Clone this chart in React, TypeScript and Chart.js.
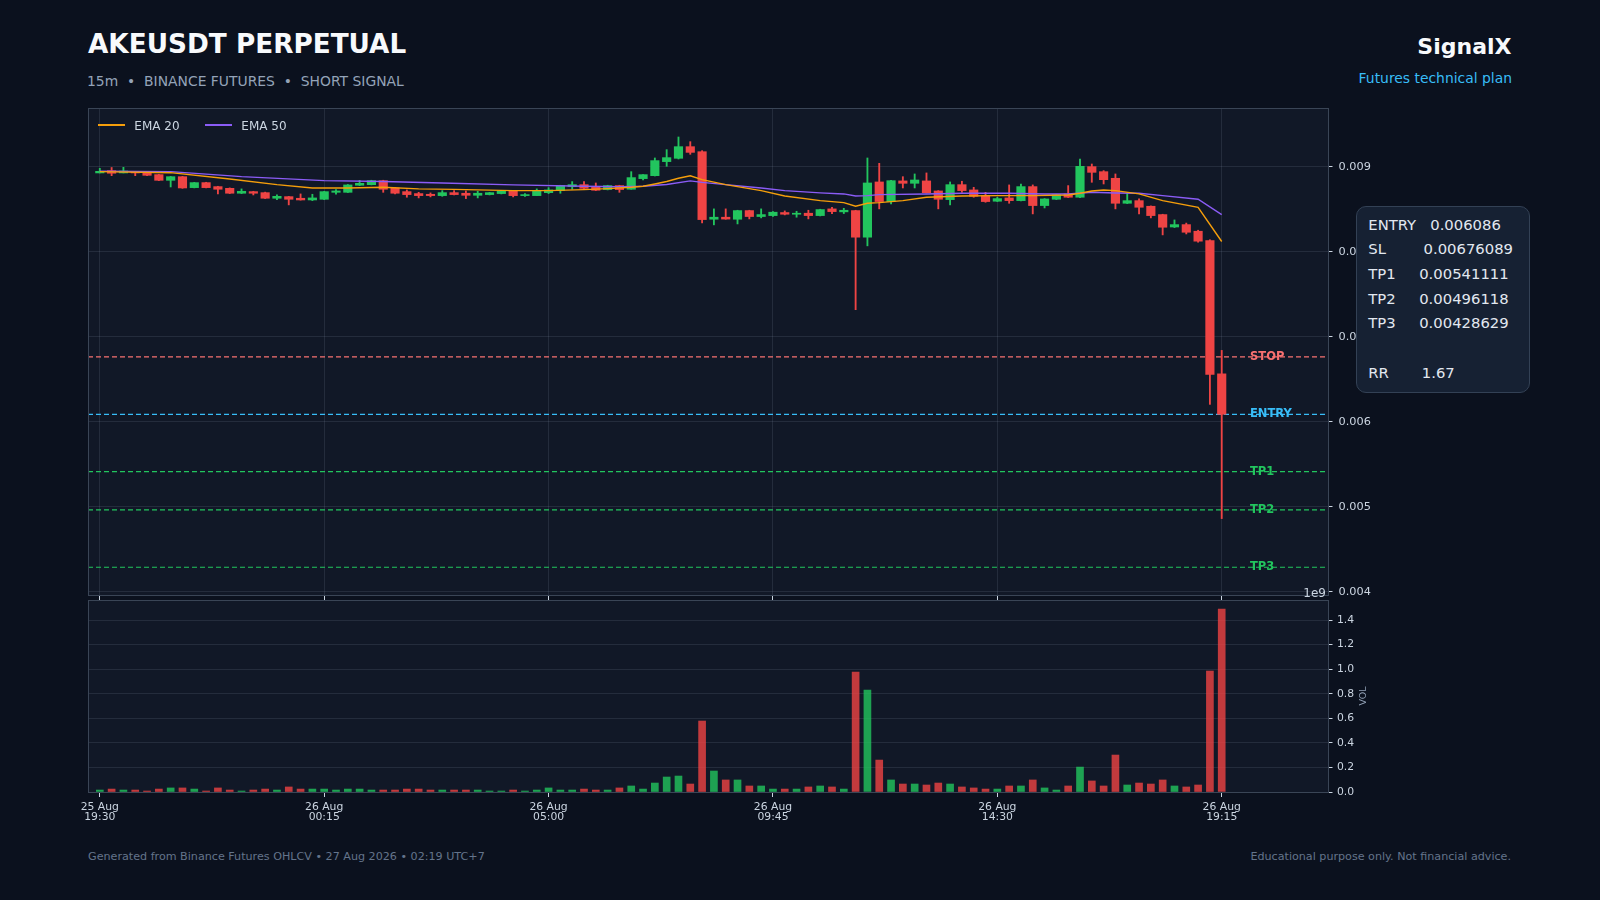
import { useEffect, useRef } from "react";
import { Chart, registerables } from "chart.js";
import type { Plugin } from "chart.js";

Chart.register(...registerables);

const FONT = "'DejaVu Sans', sans-serif";
Chart.defaults.font.family = FONT;

// 15m candles, 25 Aug 19:30 -> 26 Aug 19:15
const opens = [
  0.008926, 0.008953, 0.008926, 0.008945, 0.008933, 0.008906, 0.008839, 0.008882, 0.008753, 0.008812,
  0.008765, 0.008745, 0.008687, 0.008706, 0.008694, 0.008628, 0.008647, 0.008628, 0.008608, 0.008616,
  0.008698, 0.008698, 0.008781, 0.008788, 0.008835, 0.008749, 0.008706, 0.008683, 0.008675, 0.008659,
  0.008694, 0.008687, 0.008663, 0.008671, 0.008683, 0.008710, 0.008659, 0.008659, 0.008694, 0.008718,
  0.008765, 0.008788, 0.008757, 0.008730, 0.008777, 0.008734, 0.008859, 0.008894, 0.009059, 0.009098,
  0.009235, 0.009176, 0.008381, 0.008405, 0.008381, 0.008483, 0.008413, 0.008424, 0.008460, 0.008440,
  0.008452, 0.008424, 0.008503, 0.008468, 0.008483, 0.008170, 0.008820, 0.008589, 0.008832, 0.008804,
  0.008832, 0.008714, 0.008612, 0.008788, 0.008726, 0.008659, 0.008593, 0.008632, 0.008600, 0.008765,
  0.008542, 0.008616, 0.008679, 0.008640, 0.009000, 0.008941, 0.008863, 0.008569, 0.008600, 0.008534,
  0.008436, 0.008290, 0.008318, 0.008240, 0.008130, 0.006562,
];
const highs = [
  0.008980, 0.008990, 0.008992, 0.008945, 0.008935, 0.008910, 0.008885, 0.008886, 0.008815, 0.008816,
  0.008769, 0.008750, 0.008738, 0.008710, 0.008700, 0.008667, 0.008650, 0.008679, 0.008675, 0.008710,
  0.008730, 0.008790, 0.008839, 0.008840, 0.008840, 0.008753, 0.008726, 0.008698, 0.008691, 0.008718,
  0.008718, 0.008714, 0.008710, 0.008698, 0.008714, 0.008718, 0.008683, 0.008738, 0.008753, 0.008781,
  0.008824, 0.008824, 0.008808, 0.008781, 0.008781, 0.008941, 0.008906, 0.009102, 0.009200, 0.009349,
  0.009294, 0.009188, 0.008503, 0.008503, 0.008487, 0.008487, 0.008503, 0.008472, 0.008479, 0.008475,
  0.008487, 0.008499, 0.008522, 0.008510, 0.008487, 0.009102, 0.009039, 0.008840, 0.008882, 0.008914,
  0.008926, 0.008718, 0.008820, 0.008828, 0.008757, 0.008698, 0.008640, 0.008785, 0.008796, 0.008785,
  0.008624, 0.008675, 0.008777, 0.009090, 0.009031, 0.008953, 0.008914, 0.008691, 0.008620, 0.008538,
  0.008440, 0.008373, 0.008336, 0.008252, 0.008140, 0.006838,
];
const lows = [
  0.008926, 0.008894, 0.008926, 0.008894, 0.008895, 0.008835, 0.008761, 0.008745, 0.008750, 0.008750,
  0.008679, 0.008683, 0.008683, 0.008667, 0.008624, 0.008612, 0.008550, 0.008606, 0.008600, 0.008612,
  0.008675, 0.008695, 0.008777, 0.008785, 0.008698, 0.008680, 0.008640, 0.008632, 0.008644, 0.008651,
  0.008667, 0.008624, 0.008632, 0.008667, 0.008679, 0.008644, 0.008651, 0.008659, 0.008683, 0.008687,
  0.008734, 0.008741, 0.008718, 0.008726, 0.008698, 0.008734, 0.008845, 0.008890, 0.009004, 0.009090,
  0.009145, 0.008338, 0.008315, 0.008381, 0.008326, 0.008385, 0.008397, 0.008413, 0.008432, 0.008405,
  0.008385, 0.008420, 0.008448, 0.008448, 0.007317, 0.008068, 0.008503, 0.008561, 0.008749, 0.008749,
  0.008690, 0.008503, 0.008550, 0.008698, 0.008640, 0.008581, 0.008589, 0.008569, 0.008597, 0.008444,
  0.008514, 0.008612, 0.008636, 0.008636, 0.008816, 0.008796, 0.008503, 0.008565, 0.008444, 0.008397,
  0.008197, 0.008283, 0.008208, 0.008111, 0.006203, 0.004859,
];
const closes = [
  0.008945, 0.008922, 0.008949, 0.008926, 0.008898, 0.008839, 0.008882, 0.008749, 0.008812, 0.008753,
  0.008734, 0.008687, 0.008710, 0.008687, 0.008628, 0.008651, 0.008616, 0.008608, 0.008632, 0.008706,
  0.008714, 0.008785, 0.008804, 0.008835, 0.008734, 0.008687, 0.008671, 0.008659, 0.008659, 0.008694,
  0.008671, 0.008663, 0.008687, 0.008694, 0.008710, 0.008659, 0.008671, 0.008710, 0.008726, 0.008777,
  0.008788, 0.008745, 0.008722, 0.008777, 0.008730, 0.008871, 0.008906, 0.009071, 0.009106, 0.009235,
  0.009168, 0.008377, 0.008405, 0.008383, 0.008483, 0.008413, 0.008436, 0.008464, 0.008440, 0.008452,
  0.008424, 0.008495, 0.008471, 0.008487, 0.008170, 0.008808, 0.008589, 0.008835, 0.008804, 0.008843,
  0.008694, 0.008616, 0.008788, 0.008718, 0.008651, 0.008589, 0.008624, 0.008600, 0.008765, 0.008542,
  0.008620, 0.008671, 0.008640, 0.009004, 0.008933, 0.008847, 0.008569, 0.008600, 0.008522, 0.008424,
  0.008287, 0.008318, 0.008228, 0.008123, 0.006555, 0.006086,
];
// volume in millions of contracts
const volumesM = [
  16, 24, 16, 16, 8, 24, 33, 33, 24, 8,
  33, 16, 8, 16, 24, 16, 41, 24, 24, 24,
  16, 24, 24, 16, 16, 16, 24, 24, 16, 16,
  16, 16, 16, 8, 8, 16, 8, 16, 33, 16,
  16, 24, 16, 16, 33, 49, 24, 73, 122, 130,
  65, 578, 171, 98, 98, 49, 49, 24, 24, 24,
  41, 49, 41, 24, 977, 830, 260, 98, 65, 65,
  57, 73, 65, 41, 33, 24, 24, 49, 49, 98,
  33, 16, 49, 203, 90, 49, 301, 57, 73, 65,
  98, 49, 41, 57, 985, 1489,
];

const ema20Index = [
  0, 6, 11, 15, 18, 21, 24, 27, 30, 35, 38, 41, 43, 45, 46, 47, 48, 49, 50, 51, 53,
  56, 58, 61, 63, 64, 65, 66, 68, 70, 73, 76, 79, 82, 83, 84, 85, 86, 88, 90, 93, 95,
];
const ema20 = [
  0.008941, 0.008929, 0.008855, 0.008788, 0.008749, 0.008749, 0.008757, 0.008738, 0.008733, 0.008718,
  0.008718, 0.008730, 0.008741, 0.008757, 0.008770, 0.008796, 0.008825, 0.008864, 0.008893, 0.008848,
  0.008788, 0.008718, 0.008655, 0.008600, 0.008577, 0.008534, 0.008569, 0.008577, 0.008600, 0.008640,
  0.008655, 0.008659, 0.008659, 0.008667, 0.008687, 0.008714, 0.008726, 0.008718, 0.008679, 0.008600,
  0.008522, 0.008119,
];
const ema50Index = [
  0, 6, 12, 19, 24, 29, 35, 41, 44, 46, 48, 50, 51, 53, 56, 58, 61, 63, 64, 65, 66,
  70, 73, 77, 80, 82, 84, 86, 88, 90, 93, 95,
];
const ema50 = [
  0.008945, 0.008941, 0.008882, 0.008835, 0.008825, 0.008808, 0.008785, 0.008769, 0.008763, 0.008770,
  0.008790, 0.008832, 0.008815, 0.008788, 0.008749, 0.008718, 0.008691, 0.008679, 0.008655, 0.008659,
  0.008671, 0.008679, 0.008687, 0.008687, 0.008679, 0.008679, 0.008698, 0.008690, 0.008687, 0.008659,
  0.008616, 0.008436,
];

const tickIndex = [0, 19, 38, 57, 76, 95];
const tickDays = ["25 Aug", "26 Aug", "26 Aug", "26 Aug", "26 Aug", "26 Aug"];
const tickTimes = ["19:30", "00:15", "05:00", "09:45", "14:30", "19:15"];
const priceTicks = [0.004, 0.005, 0.006, 0.007, 0.008, 0.009];
const volumeTicks = [0, 0.2e9, 0.4e9, 0.6e9, 0.8e9, 1.0e9, 1.2e9, 1.4e9];

const levelNames = ["STOP", "ENTRY", "TP1", "TP2", "TP3"];
const levelValues = [0.00676089, 0.006086, 0.00541111, 0.00496118, 0.00428629];
const riskReward = 1.67;

const X_MIN = -1;
const X_MAX = 104;
const PRICE_MIN = 0.00396;
const PRICE_MAX = 0.00969;
const VOL_MAX = 1.5635e9;

const PAGE_BG = "#0b111e";
const PLOT_BG = "#111827";
const GRID = "rgba(148,163,184,0.15)";
const BORDER = "#3a4556";
const TICK = "#cbd5e1";
const LABEL = "#cbd5e1";
const GREEN = "#22c55e";
const RED = "#ef4444";
const VOL_GREEN = "rgba(34,197,94,0.8)";
const VOL_RED = "rgba(239,68,68,0.8)";
const ORANGE = "#f59e0b";
const PURPLE = "#8b5cf6";
const levelColors = ["#f87171", "#38bdf8", "#22c55e", "#22c55e", "#22c55e"];

const idx = closes.map((_, i) => i);
const isUp = (i: number) => closes[i] >= opens[i];

// stop Chart.js from reserving room for overhanging tick labels
const fixSize = (w?: number, h?: number) => (axis: any) => {
  if (w !== undefined) axis.width = w;
  if (h !== undefined) axis.height = h;
  axis.paddingLeft = 0;
  axis.paddingRight = 0;
  axis.paddingTop = 0;
  axis.paddingBottom = 0;
};

const framePlugin: Plugin = {
  id: "frame",
  beforeDraw(chart) {
    const { ctx, chartArea: a } = chart;
    ctx.save();
    ctx.fillStyle = PLOT_BG;
    ctx.fillRect(a.left, a.top, a.right - a.left, a.bottom - a.top);
    ctx.restore();
  },
  afterDatasetsDraw(chart) {
    const { ctx, chartArea: a } = chart;
    ctx.save();
    ctx.strokeStyle = BORDER;
    ctx.lineWidth = 1;
    ctx.strokeRect(a.left + 0.5, a.top + 0.5, a.right - a.left, a.bottom - a.top);
    ctx.restore();
  },
};

const levelLabelPlugin: Plugin = {
  id: "levelLabels",
  beforeDatasetsDraw(chart) {
    const { ctx, chartArea, scales } = chart;
    ctx.save();
    ctx.font = `bold 11.5px ${FONT}`;
    ctx.textAlign = "left";
    ctx.textBaseline = "middle";
    levelValues.forEach((v, k) => {
      ctx.fillStyle = levelColors[k];
      ctx.fillText(levelNames[k], chartArea.right - 78, scales.y.getPixelForValue(v));
    });
    ctx.restore();
  },
};

const volumeLabelPlugin: Plugin = {
  id: "volumeLabels",
  afterDraw(chart) {
    const { ctx, chartArea } = chart;
    ctx.save();
    ctx.fillStyle = LABEL;
    ctx.font = `12px ${FONT}`;
    ctx.textAlign = "right";
    ctx.textBaseline = "alphabetic";
    ctx.fillText("1e9", chartArea.right - 2, chartArea.top - 3);
    ctx.translate(chartArea.right + 36, (chartArea.top + chartArea.bottom) / 2);
    ctx.rotate(-Math.PI / 2);
    ctx.font = `9.5px ${FONT}`;
    ctx.fillStyle = "#94a3b8";
    ctx.textAlign = "center";
    ctx.textBaseline = "middle";
    ctx.fillText("VOL", 0, 0);
    ctx.restore();
  },
};

function PriceChart() {
  const canvasRef = useRef<HTMLCanvasElement>(null);

  useEffect(() => {
    const ctx = canvasRef.current?.getContext("2d");
    if (!ctx) return;

    const chart = new Chart(ctx, {
      type: "bar",
      data: {
        datasets: [
          {
            type: "line",
            label: "EMA 20",
            data: ema20Index.map((x, k) => ({ x, y: ema20[k] })),
            borderColor: ORANGE,
            borderWidth: 1.4,
            pointRadius: 0,
            order: 0,
          },
          {
            type: "line",
            label: "EMA 50",
            data: ema50Index.map((x, k) => ({ x, y: ema50[k] })),
            borderColor: PURPLE,
            borderWidth: 1.4,
            pointRadius: 0,
            order: 0,
          },
          {
            type: "bar",
            label: "body",
            data: idx.map((i) => ({ x: i, y: [opens[i], closes[i]] })),
            backgroundColor: idx.map((i) => (isUp(i) ? GREEN : RED)),
            barThickness: 8.5,
            grouped: false,
            borderWidth: 0,
            order: 1,
          },
          {
            type: "bar",
            label: "wick",
            data: idx.map((i) => ({ x: i, y: [lows[i], highs[i]] })),
            backgroundColor: idx.map((i) => (isUp(i) ? GREEN : RED)),
            barThickness: 1.2,
            grouped: false,
            borderWidth: 0,
            order: 2,
          },
          ...levelValues.map((v, k) => ({
            type: "line" as const,
            label: levelNames[k],
            data: [
              { x: X_MIN, y: v },
              { x: X_MAX, y: v },
            ],
            borderColor: levelColors[k],
            borderWidth: 1.2,
            borderDash: [5, 3],
            pointRadius: 0,
            order: 3,
          })),
        ],
      } as any,
      options: {
        animation: false,
        responsive: true,
        maintainAspectRatio: false,
        events: [],
        layout: { padding: { left: 2, top: 2, right: 0, bottom: 0 } },
        plugins: { legend: { display: false }, tooltip: { enabled: false } },
        scales: {
          x: {
            type: "linear",
            min: X_MIN,
            max: X_MAX,
            offset: false,
            grid: { offset: false, color: GRID, tickColor: TICK, tickLength: 5 },
            border: { display: false },
            ticks: { display: false },
            afterBuildTicks: (axis: any) => {
              axis.ticks = tickIndex.map((value) => ({ value }));
            },
            afterFit: fixSize(undefined, 6),
          },
          y: {
            type: "linear",
            position: "right",
            min: PRICE_MIN,
            max: PRICE_MAX,
            beginAtZero: false,
            grid: { color: GRID, tickColor: TICK, tickLength: 4.5 },
            border: { display: false },
            ticks: {
              color: LABEL,
              padding: 6,
              font: { size: 11.3 },
              callback: (v: any) => Number(v).toFixed(3),
            },
            afterBuildTicks: (axis: any) => {
              axis.ticks = priceTicks.map((value) => ({ value }));
            },
            afterFit: fixSize(80),
          },
        },
      } as any,
      plugins: [framePlugin, levelLabelPlugin],
    });

    return () => {
      chart.destroy();
    };
  }, []);

  return <canvas ref={canvasRef} />;
}

function VolumeChart() {
  const canvasRef = useRef<HTMLCanvasElement>(null);

  useEffect(() => {
    const ctx = canvasRef.current?.getContext("2d");
    if (!ctx) return;

    const chart = new Chart(ctx, {
      type: "bar",
      data: {
        datasets: [
          {
            label: "VOL",
            data: idx.map((i) => ({ x: i, y: volumesM[i] * 1e6 })),
            backgroundColor: idx.map((i) => (isUp(i) ? VOL_GREEN : VOL_RED)),
            barThickness: 7,
            borderWidth: 0,
          },
        ],
      } as any,
      options: {
        animation: false,
        responsive: true,
        maintainAspectRatio: false,
        events: [],
        layout: { padding: { left: 32, top: 20, right: 0, bottom: 0 } },
        plugins: { legend: { display: false }, tooltip: { enabled: false } },
        scales: {
          x: {
            type: "linear",
            min: X_MIN,
            max: X_MAX,
            offset: false,
            grid: { offset: false, drawOnChartArea: false, tickColor: TICK, tickLength: 5 },
            border: { display: false },
            ticks: {
              color: LABEL,
              padding: 4.5,
              maxRotation: 0,
              autoSkip: false,
              font: { size: 10.8, lineHeight: 0.98 },
              callback: (v: any) => {
                const k = tickIndex.indexOf(Number(v));
                return k >= 0 ? [tickDays[k], tickTimes[k]] : "";
              },
            },
            afterBuildTicks: (axis: any) => {
              axis.ticks = tickIndex.map((value) => ({ value }));
            },
            afterFit: fixSize(undefined, 40),
          },
          y: {
            type: "linear",
            position: "right",
            min: 0,
            max: VOL_MAX,
            grid: { color: GRID, tickColor: TICK, tickLength: 4.5 },
            border: { display: false },
            ticks: {
              color: LABEL,
              padding: 4.5,
              font: { size: 10.8 },
              callback: (v: any) => (Number(v) / 1e9).toFixed(1),
            },
            afterBuildTicks: (axis: any) => {
              axis.ticks = volumeTicks.map((value) => ({ value }));
            },
            afterFit: fixSize(80),
          },
        },
      } as any,
      plugins: [framePlugin, volumeLabelPlugin],
    });

    return () => {
      chart.destroy();
    };
  }, []);

  return <canvas ref={canvasRef} />;
}

const infoText = [
  `ENTRY   ${levelValues[1]}`,
  `SL        ${levelValues[0]}`,
  `TP1     ${levelValues[2]}`,
  `TP2     ${levelValues[3]}`,
  `TP3     ${levelValues[4]}`,
  "",
  `RR       ${riskReward.toFixed(2)}`,
].join("\n");

const abs = (s: React.CSSProperties): React.CSSProperties => ({ position: "absolute", ...s });

export default function App() {
  return (
    <div
      style={{
        position: "fixed",
        left: 0,
        top: 0,
        width: 1600,
        height: 900,
        background: PAGE_BG,
        overflow: "hidden",
        fontFamily: FONT,
      }}
    >
      <div style={abs({ left: 88, top: 31.3, fontSize: 26.3, lineHeight: 1, fontWeight: "bold", color: "#f8fafc", whiteSpace: "pre" })}>
        AKEUSDT PERPETUAL
      </div>
      <div style={abs({ left: 87, top: 74.5, fontSize: 13.9, lineHeight: 1, color: "#94a3b8", whiteSpace: "pre" })}>
        {"15m  •  BINANCE FUTURES  •  SHORT SIGNAL"}
      </div>
      <div style={abs({ right: 88.5, top: 35.7, fontSize: 22, lineHeight: 1, fontWeight: "bold", color: "#f8fafc" })}>
        SignalX
      </div>
      <div style={abs({ right: 88, top: 71.5, fontSize: 13.9, lineHeight: 1, color: "#38bdf8", whiteSpace: "pre" })}>
        Futures technical plan
      </div>

      <div style={abs({ left: 86, top: 106, width: 1322, height: 495 })}>
        <PriceChart />
      </div>
      <div style={abs({ left: 56, top: 580, width: 1352, height: 252 })}>
        <VolumeChart />
      </div>

      <div style={abs({ left: 98.3, top: 124, width: 26.7, height: 1.6, background: ORANGE })} />
      <div style={abs({ left: 134.3, top: 119.6, fontSize: 12, lineHeight: 1, color: LABEL, whiteSpace: "pre" })}>EMA 20</div>
      <div style={abs({ left: 205.3, top: 124, width: 26.7, height: 1.6, background: PURPLE })} />
      <div style={abs({ left: 241.3, top: 119.6, fontSize: 12, lineHeight: 1, color: LABEL, whiteSpace: "pre" })}>EMA 50</div>

      <div
        style={abs({
          left: 1356,
          top: 206,
          width: 173.6,
          height: 187.3,
          boxSizing: "border-box",
          border: "1px solid #334155",
          borderRadius: 10,
          background: "#162133",
          padding: "5.5px 0 0 11.3px",
          fontSize: 14.8,
          lineHeight: "24.7px",
          color: "#e2e8f0",
          whiteSpace: "pre",
        })}
      >
        {infoText}
      </div>

      <div style={abs({ left: 88, top: 850.5, fontSize: 11.15, lineHeight: 1, color: "#64748b", whiteSpace: "pre" })}>
        Generated from Binance Futures OHLCV • 27 Aug 2026 • 02:19 UTC+7
      </div>
      <div style={abs({ right: 89, top: 850.5, fontSize: 11.15, lineHeight: 1, color: "#64748b", whiteSpace: "pre" })}>
        Educational purpose only. Not financial advice.
      </div>
    </div>
  );
}
